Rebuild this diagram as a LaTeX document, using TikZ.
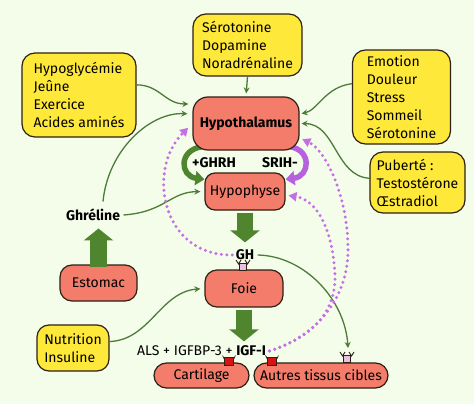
\documentclass[tikz,border=0pt]{standalone}
\usepackage{fontspec}
\setmainfont{Fira Sans}
\usetikzlibrary{arrows.meta,calc}
\definecolor{bgc}{RGB}{244,252,234}
\definecolor{boxyellow}{RGB}{254,232,58}
\definecolor{salmon}{RGB}{243,124,106}
\definecolor{edge}{RGB}{45,32,20}
\definecolor{greenA}{RGB}{78,133,46}
\definecolor{greenT}{RGB}{76,124,56}
\definecolor{purpleD}{RGB}{196,112,228}
\definecolor{purpleA}{RGB}{182,98,222}
\definecolor{recpink}{RGB}{236,190,228}
\definecolor{recred}{RGB}{214,20,20}
\pgfdeclarelayer{back}
\pgfsetlayers{back,main}
\tikzset{
  every node/.style={font=\fontsize{14}{18}\selectfont, text=black},
  ybox/.style={draw=edge, fill=boxyellow, rounded corners=13pt, line width=1.2pt, align=left, inner sep=0pt},
  sbox/.style={draw=edge, fill=salmon, rounded corners=12pt, line width=1.2pt, inner sep=0pt},
  lbl/.style={font=\fontsize{14}{16}\selectfont\bfseries},
  thinarrow/.style={draw=greenT, line width=1.3pt, -{Stealth[length=6pt,width=6pt]}},
  blockarrow/.style={draw=greenA, line width=16pt, -{Triangle[length=12pt,width=29pt]}},
  bentarrow/.style={line width=5.5pt, -{Triangle[length=9pt,width=14pt]}},
  purpledot/.style={draw=purpleD, line width=3.3pt, line cap=round, dash pattern=on 0pt off 5.5pt, -{Triangle[length=8pt,width=9pt]}},
  ghrec/.pic={
    \filldraw[fill=recpink, draw=edge, line width=0.5pt] (-3.5,-2.5) rectangle (3.5,4);
    \draw[edge, line width=0.9pt] (-7,-6) -- (-4.5,-2) -- (-2,-6);
    \draw[edge, line width=0.9pt] (2,-6) -- (4.5,-2) -- (7,-6);
  },
  igfrec/.pic={
    \filldraw[fill=recred, draw=edge, line width=0.6pt] (-4.5,-3.5) rectangle (4.5,4);
    \fill[edge] (-4.5,-3.5) -- (-7,-6) -- (-4.5,-0.5) -- cycle;
    \fill[edge] (4.5,-3.5) -- (7,-6) -- (4.5,-0.5) -- cycle;
  }
}
\begin{document}
\begin{tikzpicture}[x=1pt, y=-1pt]
\begin{pgfonlayer}{back}
\fill[bgc] (0,0) rectangle (474,404);
\end{pgfonlayer}
\useasboundingbox (0,0) rectangle (474,404);

% boxes
\node[ybox, minimum width=109pt, minimum height=62pt] (top) at (247.5,45) {Sérotonine\\Dopamine\\Noradrénaline};
\node[ybox, minimum width=114pt, minimum height=84pt] (hypo) at (79,95) {Hypoglycémie\\Jeûne\\Exercice\\Acides aminés};
\node[ybox, minimum width=98pt, minimum height=94pt] (emo) at (401.5,97) {Emotion\\Douleur\\Stress\\Sommeil\\Sérotonine};
\node[ybox, minimum width=95pt, minimum height=61pt] (pub) at (417.5,182.5) {Puberté :\\Testostérone\\Œstradiol};
\node[ybox, rounded corners=12pt, minimum width=72pt, minimum height=46pt] (nut) at (73,348) {Nutrition\\Insuline};

\node[sbox, rounded corners=15pt, minimum width=106pt, minimum height=53pt, font=\fontsize{14}{16}\selectfont\bfseries] (hth) at (246,123.5) {Hypothalamus};
\node[sbox, rounded corners=10pt, minimum width=80pt, minimum height=37pt] (hyp) at (245,191.5) {Hypophyse};
\node[sbox, minimum width=78pt, minimum height=37pt] (foie) at (244,288.5) {Foie};
\node[sbox, minimum width=77pt, minimum height=36pt] (est) at (98.5,283) {Estomac};
\node[sbox, rounded corners=12.5pt, minimum width=95pt, minimum height=25pt] (cart) at (201.5,375.5) {Cartilage};
\node[sbox, rounded corners=12.5pt, minimum width=134pt, minimum height=25pt] (autres) at (321,375.5) {Autres tissus cibles};

% labels
\node[lbl] (ghrh) at (214,163) {+GHRH};
\node[lbl] (srih) at (280,163) {SRIH-};
\node[lbl] (gh) at (245,255) {GH};
\node[lbl] (ghr) at (93,215) {Ghréline};
\node (igf) at (201.5,351) {ALS + IGFBP-3 + \textbf{IGF-I}};

% receptors
\pic at (243,266) {ghrec};
\pic at (347,358) {ghrec};
\pic at (229,361) {igfrec};
\pic at (272,361) {igfrec};
\coordinate (rtop) at (348,348);

% bent thick arrows (behind the boxes)
\begin{pgfonlayer}{back}
\draw[bentarrow, draw=greenA] ($(hth.south west)+(10,-4)$) .. controls (178,150) and (180,176) .. ($(hyp.north west)+(0,7)$);
\draw[bentarrow, draw=purpleA] ($(hth.south east)+(-10,-4)$) .. controls (312,150) and (310,176) .. ($(hyp.north east)+(0,7)$);
\end{pgfonlayer}

% block arrows
\draw[blockarrow, shorten <=2pt, shorten >=4pt] (hyp.south) -- (gh.north);
\draw[blockarrow, shorten <=2pt, shorten >=1pt] (foie.south) -- (igf.north -| foie.south);
\draw[blockarrow, line width=17pt, shorten <=-3pt, shorten >=4pt] (est.north) -- (est.north |- ghr.south);

% thin green arrows
\draw[thinarrow, shorten >=4pt] (hypo.10) .. controls (160,85) and (165,104) .. (hth.160);
\draw[thinarrow, shorten >=5pt] ($(ghr.north)+(10,-4)$) .. controls (108,150) and (150,112) .. (hth.170);
\draw[thinarrow, shorten >=4pt] (ghr.east) .. controls (165,212) and (170,192) .. (hyp.west);
\draw[thinarrow, shorten >=3pt] (top.south) -- (hth.north);
\draw[thinarrow, shorten >=2pt] (emo.165) .. controls (325,87) and (318,110) .. (hth.10);
\draw[thinarrow, shorten >=2pt] (pub.175) .. controls (335,176) and (336,124) .. (hth.east);
\draw[thinarrow] (gh.east) .. controls (305,256) and (345,300) .. (rtop);
\draw[thinarrow, shorten >=4pt] (nut.10) .. controls (150,340) and (160,292) .. (foie.west);

% purple dotted feedback
\draw[purpledot, shorten >=6pt] (gh.west) .. controls (162,256) and (146,170) .. (hth.west);
\draw[purpledot, shorten >=3pt] (igf.east) .. controls (320,335) and (348,295) .. (348,250) .. controls (348,195) and (325,150) .. (hth.-15);
\draw[purpledot, shorten >=3pt] (igf.east) .. controls (320,335) and (336,305) .. (335,275) .. controls (333,232) and (318,200) .. (hyp.-5);
\end{tikzpicture}
\end{document}
